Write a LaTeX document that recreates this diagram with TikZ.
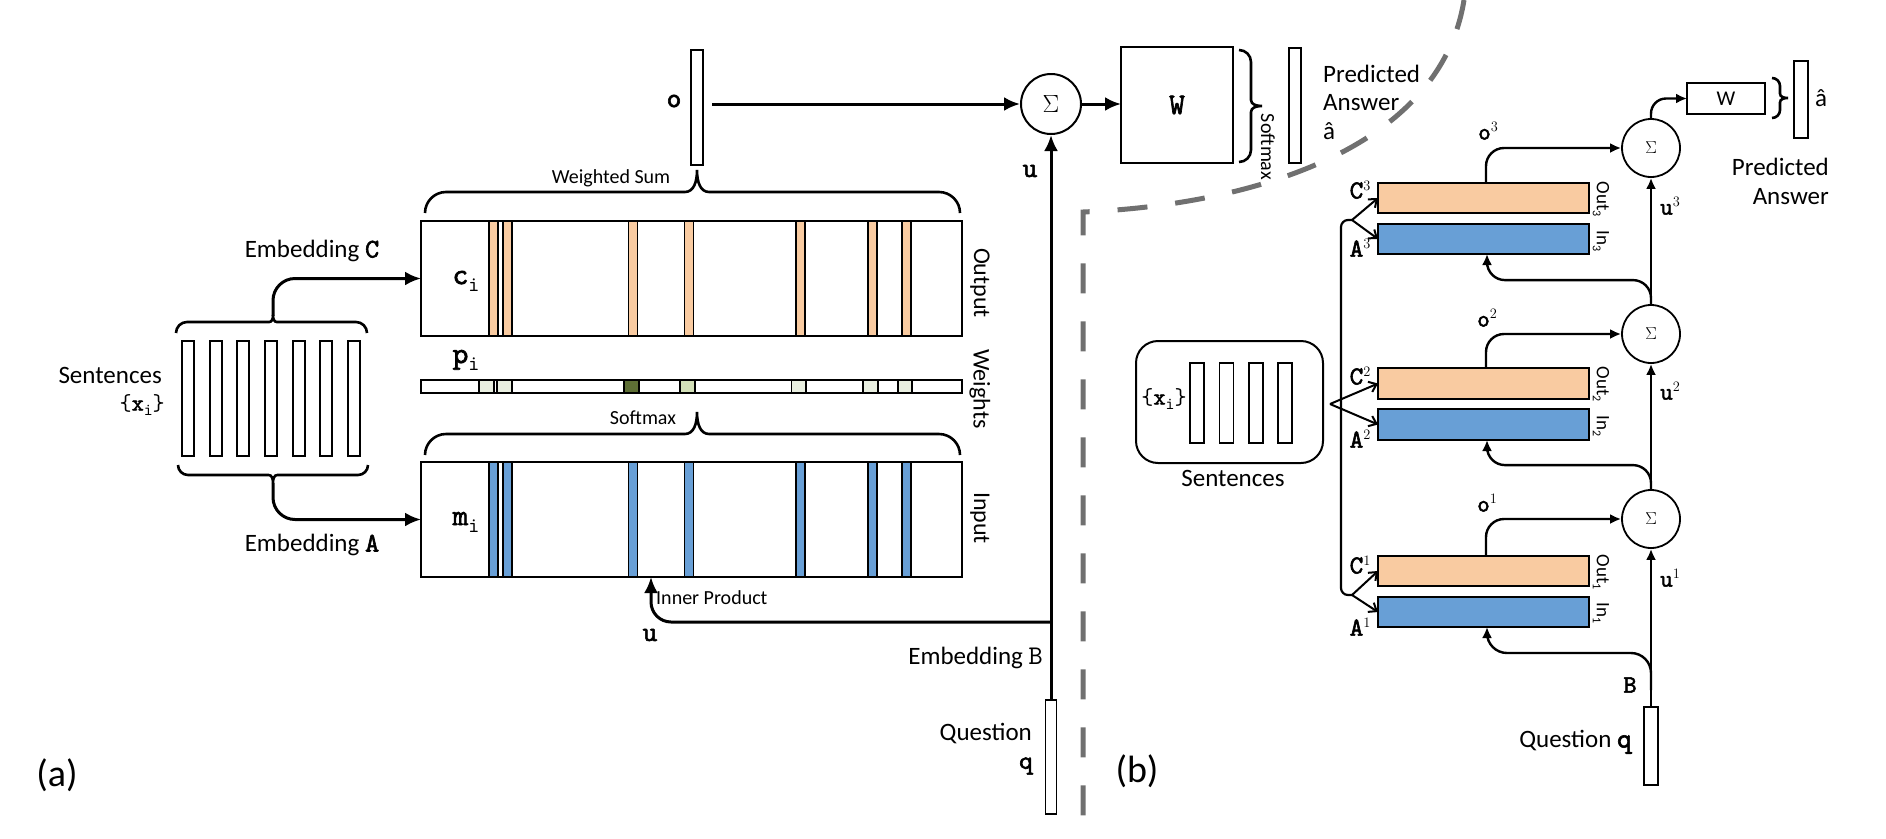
\documentclass[tikz,border=0pt]{standalone}
\usepackage{fontspec}
\setmainfont{Carlito}
\newfontfamily\mono{lmmono10-regular.otf}[BoldFont=lmmono10-regular.otf, BoldFeatures={FakeBold=2.2}]
\usetikzlibrary{arrows.meta}
\definecolor{orng}{RGB}{249,203,161}
\definecolor{blu}{RGB}{104,159,214}
\definecolor{wl}{RGB}{233,239,224}
\definecolor{wd}{RGB}{94,111,53}
\definecolor{wg}{RGB}{211,224,184}
\definecolor{dgray}{RGB}{112,112,112}
\newcommand\fs[1]{\fontsize{#1}{#1}\selectfont}
\newcommand\lowi[3]{\raisebox{-#2pt}{\fs{#3}\mono\mdseries #1}}
\newcommand\upn[1]{\raisebox{8pt}{\fs{14}$#1$}}
\newcommand\HBrace[6]{%
 \draw[brc] (#1,{#4+(#5)}) .. controls (#1,{#4+0.45*(#5)}) and ({#1+0.45*abs(#5)},#4) .. ({#1+abs(#5)},#4)
 -- ({#3-0.55*abs(#6)},#4) .. controls ({#3-0.15*abs(#6)},#4) and (#3,{#4-0.45*(#6)}) .. (#3,{#4-(#6)})
 .. controls (#3,{#4-0.45*(#6)}) and ({#3+0.15*abs(#6)},#4) .. ({#3+0.55*abs(#6)},#4)
 -- ({#2-abs(#5)},#4) .. controls ({#2-0.45*abs(#5)},#4) and (#2,{#4+0.45*(#5)}) .. (#2,{#4+(#5)});}
\newcommand\VBrace[6]{%
 \draw[brc] ({#4+(#5)},#1) .. controls ({#4+0.45*(#5)},#1) and (#4,{#1+0.45*abs(#5)}) .. (#4,{#1+abs(#5)})
 -- (#4,{#3-0.55*abs(#6)}) .. controls (#4,{#3-0.15*abs(#6)}) and ({#4-0.45*(#6)},#3) .. ({#4-(#6)},#3)
 .. controls ({#4-0.45*(#6)},#3) and (#4,{#3+0.15*abs(#6)}) .. (#4,{#3+0.55*abs(#6)})
 -- (#4,{#2-abs(#5)}) .. controls (#4,{#2-0.45*abs(#5)}) and ({#4+0.45*(#5)},#2) .. ({#4+(#5)},#2);}
\begin{document}
\begin{tikzpicture}[x=1pt,y=-1pt,
 box/.style={draw, line width=1.8pt, inner sep=0pt, outer sep=0pt, anchor=north west},
 lbl/.style={inner sep=0pt, font=\fs{25}},
 arr/.style={line width=3pt, -{Latex[length=16pt,width=14pt]}},
 barr/.style={line width=2.4pt, -{Latex[length=11pt,width=10pt]}},
 fan/.style={line width=2pt, -{Straight Barb[length=7pt,width=11pt]}},
 brc/.style={line width=2.6pt},
 sig/.style={circle, draw, line width=2pt, inner sep=0pt, minimum size=60pt},
 dsh/.style={line width=5pt, draw=dgray, dash pattern=on 30pt off 28pt}]
\useasboundingbox (0,0) rectangle (1886,838);

% ---------------- (a) ----------------
\foreach \xx [count=\k] in {182,209.7,237.3,265,292.7,320.3,348}
  \node[box, minimum width=12pt, minimum height=115pt] (sa\k) at (\xx,341) {};
\node[lbl, anchor=east] (sentA) at (162,375) {Sentences};
\node[lbl, anchor=east, font=\fs{23}] (xA) at (165,405) {\mono\{\textbf{x}\lowi{i}{5}{17}\}};
\HBrace{176}{367}{273}{322}{11}{7}
\HBrace{178}{368}{273}{475}{-10}{-8}
\node[lbl] (embC) at (312,251) {Embedding {\fs{27}\mono\bfseries C}};
\node[lbl] (embA) at (312,545) {Embedding {\fs{27}\mono\bfseries A}};

% stripes
\foreach \c in {493.5,507.5,633,689,800.5,872.5,906.5} {
  \draw[fill=orng, line width=1.2pt] (\c-4.5,221) rectangle (\c+4.5,336);
  \draw[fill=blu, line width=1.2pt] (\c-4.5,462) rectangle (\c+4.5,577);
}
\node[box, minimum width=541pt, minimum height=115pt] (outA) at (421,221) {};
\node[box, minimum width=541pt, minimum height=115pt] (inA) at (421,462) {};
\node[box, line width=1.5pt, minimum width=541pt, minimum height=13pt] (wA) at (421,380) {};
\foreach \a/\b/\col in {479/494/wl,497/512/wl,624/639/wd,680/695/wg,791.5/806/wl,863/878/wl,898/912/wl}
  \draw[fill=\col, line width=1.2pt] (\a,380) rectangle (\b,393);
\node[lbl, font=\fs{30}] (ci) at (466,281) {\mono\bfseries c\lowi{i}{7}{21}};
\node[lbl, font=\fs{30}] (pi) at (466,360) {\mono\bfseries p\lowi{i}{7}{21}};
\node[lbl, font=\fs{30}] (mi) at (466,522) {\mono\bfseries m\lowi{i}{7}{21}};
\node[lbl, rotate=-90, font=\fs{24}] (lout) at (980,283) {Output};
\node[lbl, rotate=-90, font=\fs{24}] (lw) at (980,389) {Weights};
\node[lbl, rotate=-90, font=\fs{24}] (lin) at (980,518) {Input};

\draw[arr, rounded corners=22pt] (273,316) |- (outA.west);
\draw[arr, rounded corners=22pt] (273,483) |- (inA.west);

\HBrace{425}{960}{697}{192}{21}{22}
\HBrace{425}{960}{697}{434}{21}{22}
\node[lbl, font=\fs{20}] (wsum) at (611,178) {Weighted Sum};
\node[lbl, font=\fs{20}] (smA) at (643,418) {Softmax};

% top row
\node[box, minimum width=12pt, minimum height=115pt] (oA) at (691,50) {};
\node[lbl, font=\fs{28}] (olab) at (674,101) {\mono\bfseries o};
\node[sig, minimum size=60pt] (sigA) at (1051,104) {\fs{29}$\Sigma$};
\node[box, minimum width=112pt, minimum height=116pt] (Wa) at (1121,47) {\fs{30}\mono\bfseries W};
\VBrace{50}{162}{106}{1251}{-12}{-11}
\node[lbl, rotate=-90, font=\fs{20}] (smW) at (1268,147) {Softmax};
\node[box, minimum width=12pt, minimum height=115pt] (ansA) at (1289,48) {};
\node[lbl, anchor=west] (pa1) at (1323,74) {Predicted};
\node[lbl, anchor=west] (pa2) at (1323,103) {Answer};
\node[lbl, anchor=west] (pa3) at (1323,131) {â};
\draw[arr] ([xshift=9pt]oA.east |- sigA.west) -- (sigA.west);
\draw[arr] (sigA.east) -- (sigA.east -| Wa.west);

% question a
\node[box, minimum width=11pt, minimum height=114pt] (qA) at (1045.5,700) {};
\coordinate (ju) at (1051,622);
\coordinate (ipt) at (651,577);
\draw[arr] (qA.north) -- (sigA.south);
\draw[arr, rounded corners=20pt] (ju) -| (ipt);
\node[lbl, font=\fs{20}, anchor=west] (ipl) at (656,598) {Inner Product};
\node[lbl, font=\fs{28}] (ulo) at (650,635) {\mono\bfseries u};
\node[lbl, font=\fs{28}] (uhi) at (1030,171) {\mono\bfseries u};
\node[lbl, anchor=east] (embB) at (1043,658) {Embedding {\fs{27}\mono B}};
\node[lbl, anchor=east] (qlab) at (1032,733) {Question};
\node[lbl, font=\fs{26}] (qq) at (1026,766) {\mono\bfseries q};
\node[lbl, font=\fs{38}] (la) at (57,775) {(a)};

% dashed separator
\draw[dsh] (1464,0) .. controls (1440,150) and (1250,205) .. (1083,212) -- (1083,838);

% ---------------- (b) ----------------
\node[box, fill=orng, line width=2pt, minimum width=211pt, minimum height=30pt] (out3) at (1378,183) {};
\node[box, fill=blu, line width=2pt, minimum width=211pt, minimum height=30pt] (in3) at (1378,224) {};
\node[box, fill=orng, line width=2pt, minimum width=211pt, minimum height=31pt] (out2) at (1378,368) {};
\node[box, fill=blu, line width=2pt, minimum width=211pt, minimum height=31pt] (in2) at (1378,409) {};
\node[box, fill=orng, line width=2pt, minimum width=211pt, minimum height=30pt] (out1) at (1378,556) {};
\node[box, fill=blu, line width=2pt, minimum width=211pt, minimum height=30pt] (in1) at (1378,597) {};
\node[lbl, rotate=-90, font=\fs{19}] (lo3) at (1601,199) {Out\raisebox{-4pt}{\fs{12}3}};
\node[lbl, rotate=-90, font=\fs{19}] (li3) at (1601,241) {In\raisebox{-4pt}{\fs{12}3}};
\node[lbl, rotate=-90, font=\fs{19}] (lo2) at (1601,384) {Out\raisebox{-4pt}{\fs{12}2}};
\node[lbl, rotate=-90, font=\fs{19}] (li2) at (1601,426) {In\raisebox{-4pt}{\fs{12}2}};
\node[lbl, rotate=-90, font=\fs{19}] (lo1) at (1601,572) {Out\raisebox{-4pt}{\fs{12}1}};
\node[lbl, rotate=-90, font=\fs{19}] (li1) at (1601,613) {In\raisebox{-4pt}{\fs{12}1}};

\node[sig, line width=1.8pt, minimum size=58pt] (sig3) at (1651,148) {\fs{17}$\Sigma$};
\node[sig, line width=1.8pt, minimum size=58pt] (sig2) at (1651,334) {\fs{17}$\Sigma$};
\node[sig, line width=1.8pt, minimum size=58pt] (sig1) at (1651,519) {\fs{17}$\Sigma$};
\node[box, line width=1.8pt, minimum width=14pt, minimum height=78pt] (qB) at (1644,707) {};
\node[box, line width=1.8pt, minimum width=78pt, minimum height=31pt] (Wb) at (1687,83) {\fs{21}W};
\VBrace{78}{118}{98}{1780}{-8}{-8}
\node[box, line width=1.8pt, minimum width=14pt, minimum height=77pt] (ansB) at (1794,61) {};
\node[lbl] (ahat) at (1821,98) {â};
\node[lbl, anchor=east] (pb1) at (1829,167) {Predicted};
\node[lbl, anchor=east] (pb2) at (1829,197) {Answer};

\draw[barr] (qB.north) -- (sig1.south);
\draw[barr] (sig1.north) -- (sig2.south);
\draw[barr] (sig2.north) -- (sig3.south);
\draw[barr, rounded corners=15pt] (sig3.north) |- (Wb.west);
\draw[barr, rounded corners=18pt] ([xshift=108pt]out3.north west) |- (sig3.west);
\draw[barr, rounded corners=18pt] ([xshift=108pt]out2.north west) |- (sig2.west);
\draw[barr, rounded corners=18pt] ([xshift=108pt]out1.north west) |- (sig1.west);
\draw[barr, rounded corners=18pt] (sig2.north) -- ++(0,-24) -| ([xshift=109pt]in3.south west);
\draw[barr, rounded corners=18pt] (sig1.north) -- ++(0,-24) -| ([xshift=109pt]in2.south west);
\draw[barr, rounded corners=20pt] ([yshift=17pt]qB.north) -- ++(0,-37) -| ([xshift=109pt]in1.south west);

\node[lbl, font=\fs{24}] (o3) at (1488,131) {\mono\bfseries o\upn{3}};
\node[lbl, font=\fs{24}] (o2) at (1487,318) {\mono\bfseries o\upn{2}};
\node[lbl, font=\fs{24}] (o1) at (1487,503) {\mono\bfseries o\upn{1}};
\node[lbl, font=\fs{24}] (u3) at (1670,206) {\mono\bfseries u\upn{3}};
\node[lbl, font=\fs{24}] (u2) at (1670,391) {\mono\bfseries u\upn{2}};
\node[lbl, font=\fs{24}] (u1) at (1670,578) {\mono\bfseries u\upn{1}};
\node[lbl, font=\fs{25}] (Bl) at (1630,685) {\mono\bfseries B};
\node[lbl, anchor=east] (qlb) at (1632,742) {Question {\fs{28}\mono\bfseries q}};

% sentences (b)
\node[box, line width=2pt, rounded corners=22pt, minimum width=187pt, minimum height=122pt] (sentB) at (1136,341) {};
\foreach \xx [count=\k] in {1190,1219.5,1249,1278}
  \node[box, minimum width=14pt, minimum height=80pt] (sb\k) at (\xx,363) {};
\node[lbl, font=\fs{23}] (xB) at (1164,399) {\mono\{\textbf{x}\lowi{i}{5}{17}\}};
\node[lbl] (sentBl) at (1233,478) {Sentences};

\coordinate (f3) at (1352,220);
\coordinate (f1) at (1352,595);
\coordinate (fm) at (1330,404);
\draw[line width=2.2pt, rounded corners=7pt] (f3) -- (1341,220) -- (1341,595) -- (f1);
\draw[fan] (f3) -- (out3.west);
\draw[fan] (f3) -- (in3.west);
\draw[fan] (fm) -- (out2.west);
\draw[fan] (fm) -- (in2.west);
\draw[fan] (f1) -- (out1.west);
\draw[fan] (f1) -- (in1.west);
\node[lbl, font=\fs{26}] (C3) at (1360,190) {\mono\bfseries C\upn{3}};
\node[lbl, font=\fs{26}] (A3) at (1360,248) {\mono\bfseries A\upn{3}};
\node[lbl, font=\fs{26}] (C2) at (1360,376) {\mono\bfseries C\upn{2}};
\node[lbl, font=\fs{26}] (A2) at (1360,439) {\mono\bfseries A\upn{2}};
\node[lbl, font=\fs{26}] (C1) at (1360,565) {\mono\bfseries C\upn{1}};
\node[lbl, font=\fs{26}] (A1) at (1360,627) {\mono\bfseries A\upn{1}};
\node[lbl, font=\fs{38}] (lb) at (1137,771) {(b)};
\end{tikzpicture}
\end{document}
